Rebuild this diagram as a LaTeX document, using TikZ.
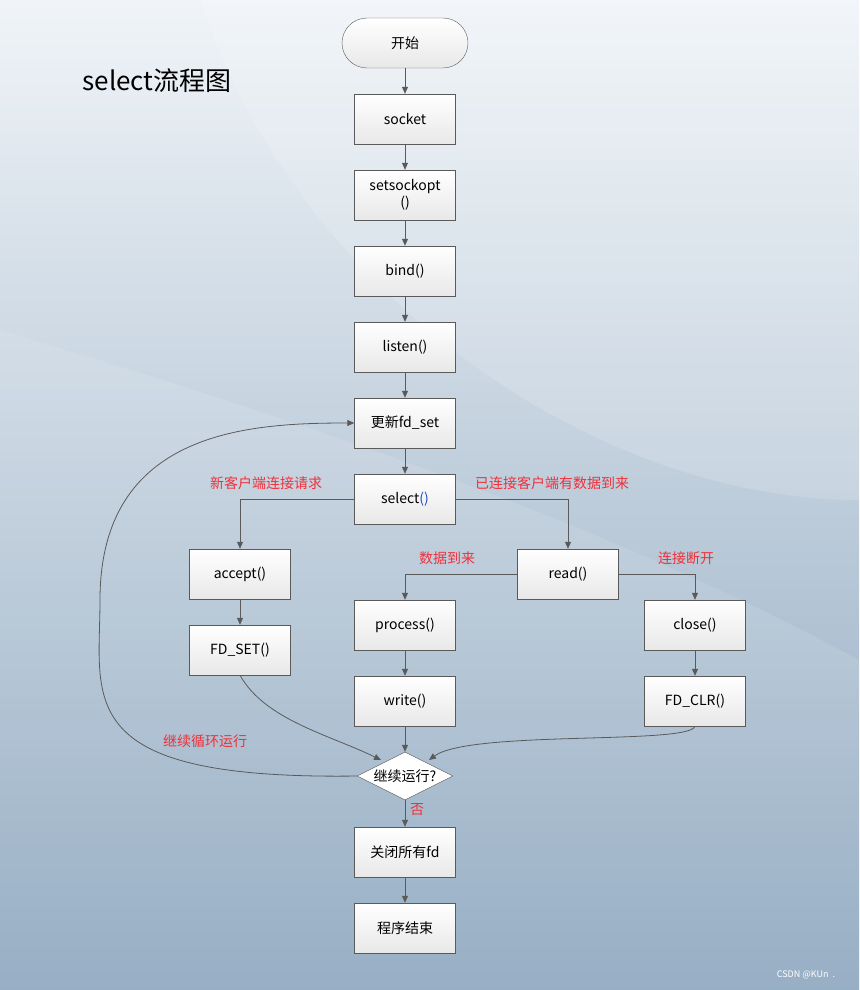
\documentclass[tikz,border=0pt]{standalone}
\usepackage{fontspec}
\setmainfont{Noto Sans CJK SC}
\usetikzlibrary{shapes.geometric,arrows.meta}
\definecolor{bord}{HTML}{5A5A5A}
\definecolor{lab}{HTML}{F0303A}
\definecolor{bl}{HTML}{2050C0}
\begin{document}
\begin{tikzpicture}[x=1pt,y=-1pt,
  box/.style={draw=bord,top color=white,bottom color=gray!18,minimum width=101pt,minimum height=50pt,inner sep=1pt,align=center,font=\fontsize{14}{17}\selectfont},
  arr/.style={draw=bord,line width=0.8pt,-{Triangle[length=7pt,width=6pt]}},
  lbl/.style={text=lab,font=\fontsize{14}{16}\selectfont}]
\shade[top color={rgb,255:red,240;green,244;blue,248},bottom color={rgb,255:red,140;green,166;blue,190}] (0,0) rectangle (859,990);
\fill[white,opacity=0.15] (200,0) .. controls (300,300) and (600,500) .. (859,500) -- (859,0) -- cycle;
\fill[white,opacity=0.1] (0,330) .. controls (300,420) and (600,520) .. (859,660) -- (859,990) -- (0,990) -- cycle;
\useasboundingbox (0,0) rectangle (859,990);
\node[font=\fontsize{26}{30}\selectfont] (title) at (157,81) {select流程图};
\node[box,rounded corners=25pt,minimum width=126pt] (start) at (405,43) {开始};
\node[box] (socket) at (405,119) {socket};
\node[box] (sso) at (405,195) {setsockopt\\()};
\node[box] (bind) at (405,271) {bind()};
\node[box] (listen) at (405,347) {listen()};
\node[box] (upd) at (405,423) {更新fd\_set};
\node[box] (sel) at (405,499) {select\textcolor{bl}{()}};
\node[box] (acc) at (240,574) {accept()};
\node[box] (fdset) at (240,650) {FD\_SET()};
\node[box] (read) at (568,574) {read()};
\node[box] (proc) at (405,625) {process()};
\node[box] (write) at (405,701) {write()};
\node[box] (close) at (695,625) {close()};
\node[box] (fdclr) at (695,701) {FD\_CLR()};
\node[draw=bord,fill=white,diamond,aspect=2,minimum width=96pt,minimum height=48pt,inner sep=0pt,font=\fontsize{14}{16}\selectfont] (dia) at (405,776) {继续运行?};
\node[box] (cls) at (405,852) {关闭所有fd};
\node[box] (end) at (405,928) {程序结束};
\draw[arr] (start) -- (socket);
\draw[arr] (socket) -- (sso);
\draw[arr] (sso) -- (bind);
\draw[arr] (bind) -- (listen);
\draw[arr] (listen) -- (upd);
\draw[arr] (upd) -- (sel);
\draw[arr] (sel.west) -| (acc.north);
\draw[arr] (sel.east) -| (read.north);
\draw[arr] (read.west) -| (proc.north);
\draw[arr] (read.east) -| (close.north);
\draw[arr] (acc) -- (fdset);
\draw[arr] (proc) -- (write);
\draw[arr] (close) -- (fdclr);
\draw[arr] (write) -- (dia);
\draw[arr] (fdset.south) .. controls (265,720) and (330,735) .. (381,760);
\draw[arr] (fdclr.south) .. controls (690,745) and (470,730) .. (429,760);
\draw[arr] (dia.west) .. controls (70,780) and (100,700) .. (100,600) .. controls (100,430) and (250,423) .. (upd.west);
\draw[arr] (dia) -- (cls);
\draw[arr] (cls) -- (end);
\node[lbl] (l1) at (266,483) {新客户端连接请求};
\node[lbl] (l2) at (552,483) {已连接客户端有数据到来};
\node[lbl] (l3) at (447,558) {数据到来};
\node[lbl] (l4) at (686,558) {连接断开};
\node[lbl] (l5) at (205,741) {继续循环运行};
\node[lbl] (l6) at (417,810) {否};
\node[text=white,font=\fontsize{9}{10}\selectfont] (wm) at (806,975) {CSDN @KUn\ \ .};
\end{tikzpicture}
\end{document}
